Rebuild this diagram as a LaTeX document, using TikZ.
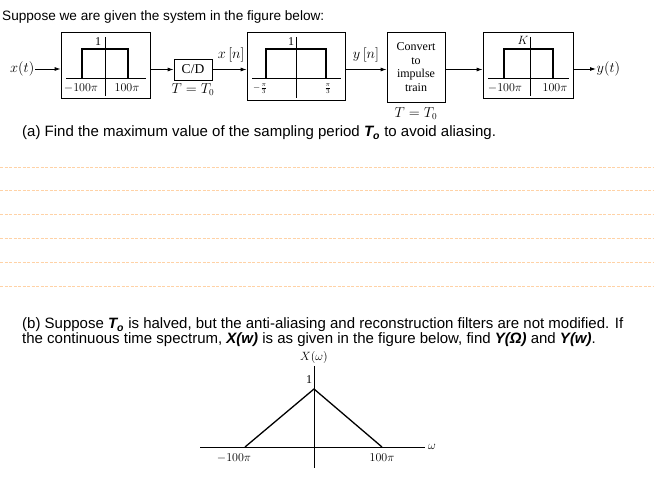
\documentclass[tikz,border=0pt]{standalone}
\usepackage{fontspec}
\setmainfont{Liberation Serif}
\newfontfamily\qf{Liberation Sans}
\usetikzlibrary{arrows.meta}
\begin{document}
\begin{tikzpicture}[x=1pt,y=-1pt,
  blk/.style={draw,line width=0.8pt},
  ar/.style={-{Latex[length=6pt,width=4pt]},line width=0.8pt},
  pl/.style={line width=1.3pt},
  ax/.style={line width=0.7pt},
  q/.style={font=\qf\fontsize{13.6}{16}\selectfont,anchor=west,inner sep=0pt},
  qq/.style={font=\qf\fontsize{15}{17}\selectfont},
  lb/.style={font=\fontsize{12}{13}\selectfont,inner sep=0.5pt},
  big/.style={font=\fontsize{13.5}{14}\selectfont},
  dl/.style={draw=orange!35,dashed,dash pattern=on 3pt off 1.5pt,line width=1pt}]
\useasboundingbox (0,0) rectangle (654,489);
\node[q] (title) at (2,17) {Suppose we are given the system in the figure below:};
% input
\node[lb,big,anchor=east] (xt) at (35,69) {$x(t)$};
% box1
\node[blk,minimum width=89pt,minimum height=66pt,inner sep=0] (b1) at (105.5,65) {};
\draw[ax] (66,78) -- (146,78); \draw[ax] (105,37) -- (105,96);
\draw[pl] (82,78) -- (82,49) -- (128,49) -- (128,78);
\node[lb] (b1one) at (98,42) {1};
\node[lb] (b1l) at (81,88) {$-100\pi$};
\node[lb] (b1r) at (127,88) {$100\pi$};
% C/D
\node[blk,minimum width=38pt,minimum height=21pt,inner sep=0,big] (cd) at (193,69.5) {C/D};
\node[lb,big] (t1) at (193,90) {$T=T_0$};
% box2
\node[blk,minimum width=98pt,minimum height=68pt,inner sep=0] (b2) at (296,66) {};
\draw[ax] (252,78) -- (341,78); \draw[ax] (296,37) -- (296,98);
\draw[pl] (266,78) -- (266,49) -- (326,49) -- (326,78);
\node[lb] (b2one) at (291,42) {1};
\node[lb,font=\fontsize{9}{10}\selectfont,anchor=east] (b2l) at (268,89) {$-\frac{\pi}{3}$};
\node[lb,font=\fontsize{9}{10}\selectfont] (b2r) at (328,89) {$\frac{\pi}{3}$};
% convert
\node[blk,minimum width=58pt,minimum height=70pt,inner sep=0,align=center,font=\fontsize{12}{13.5}\selectfont] (cv) at (416,67) {Convert\\to\\impulse\\train};
\node[lb,big] (t2) at (416,114) {$T=T_0$};
% box3
\node[blk,minimum width=90pt,minimum height=66pt,inner sep=0] (b3) at (528,65) {};
\draw[ax] (488,78) -- (569,78); \draw[ax] (530,37) -- (530,96);
\draw[pl] (504,78) -- (504,49) -- (553,49) -- (553,78);
\node[lb] (b3k) at (523,40) {$K$};
\node[lb] (b3l) at (505,88) {$-100\pi$};
\node[lb] (b3r) at (555,88) {$100\pi$};
\node[lb,big,anchor=west] (yt) at (596,69) {$y(t)$};
% arrows
\draw[ar] (xt.east) -- (b1.west |- xt.east);
\draw[ar] (b1.east |- cd.west) -- (cd.west);
\draw[ar] (cd.east) -- (b2.west |- cd.east) node[pos=0.55,above=6pt,lb,big] (xn) {$x\,[n]$};
\draw[ar] (b2.east |- cd.east) -- (cv.west |- cd.east) node[pos=0.5,above=6pt,lb,big] (yn) {$y\,[n]$};
\draw[ar] (cv.east |- cd.east) -- (b3.west |- cd.east);
\draw[ar] (b3.east |- yt.west) -- (yt.west);
% (a)
\node[q,qq] (qa) at (22,133) {(a) Find the maximum value of the sampling period \textbf{\textit{T\textsubscript{o}}} to avoid aliasing.};
\foreach \yy in {168,191,215,239,263,287} \draw[dl] (0,\yy) -- (654,\yy);
% (b)
\node[q,qq] (qb1) at (22,325) {(b) Suppose \textbf{\textit{T\textsubscript{o}}} is halved, but the anti-aliasing and reconstruction filters are not modified. If};
\node[q,qq] (qb2) at (22,340) {the continuous time spectrum, \textbf{\textit{X(w)}} is as given in the figure below, find \textbf{\textit{Y(Ω)}} and \textbf{\textit{Y(w)}}.};
% X(w) graph
\draw[ax] (200,447) -- (425,447); \draw[ax] (314,366) -- (314,468);
\draw[pl] (245,447) -- (314,389) -- (382,447);
\node[lb] (Xw) at (314,358) {$X(\omega)$};
\node[lb] (one) at (309,380) {1};
\node[lb] (wl) at (234,458) {$-100\pi$};
\node[lb] (wr) at (382,458) {$100\pi$};
\node[lb] (w) at (432,447) {$\omega$};
\end{tikzpicture}
\end{document}
